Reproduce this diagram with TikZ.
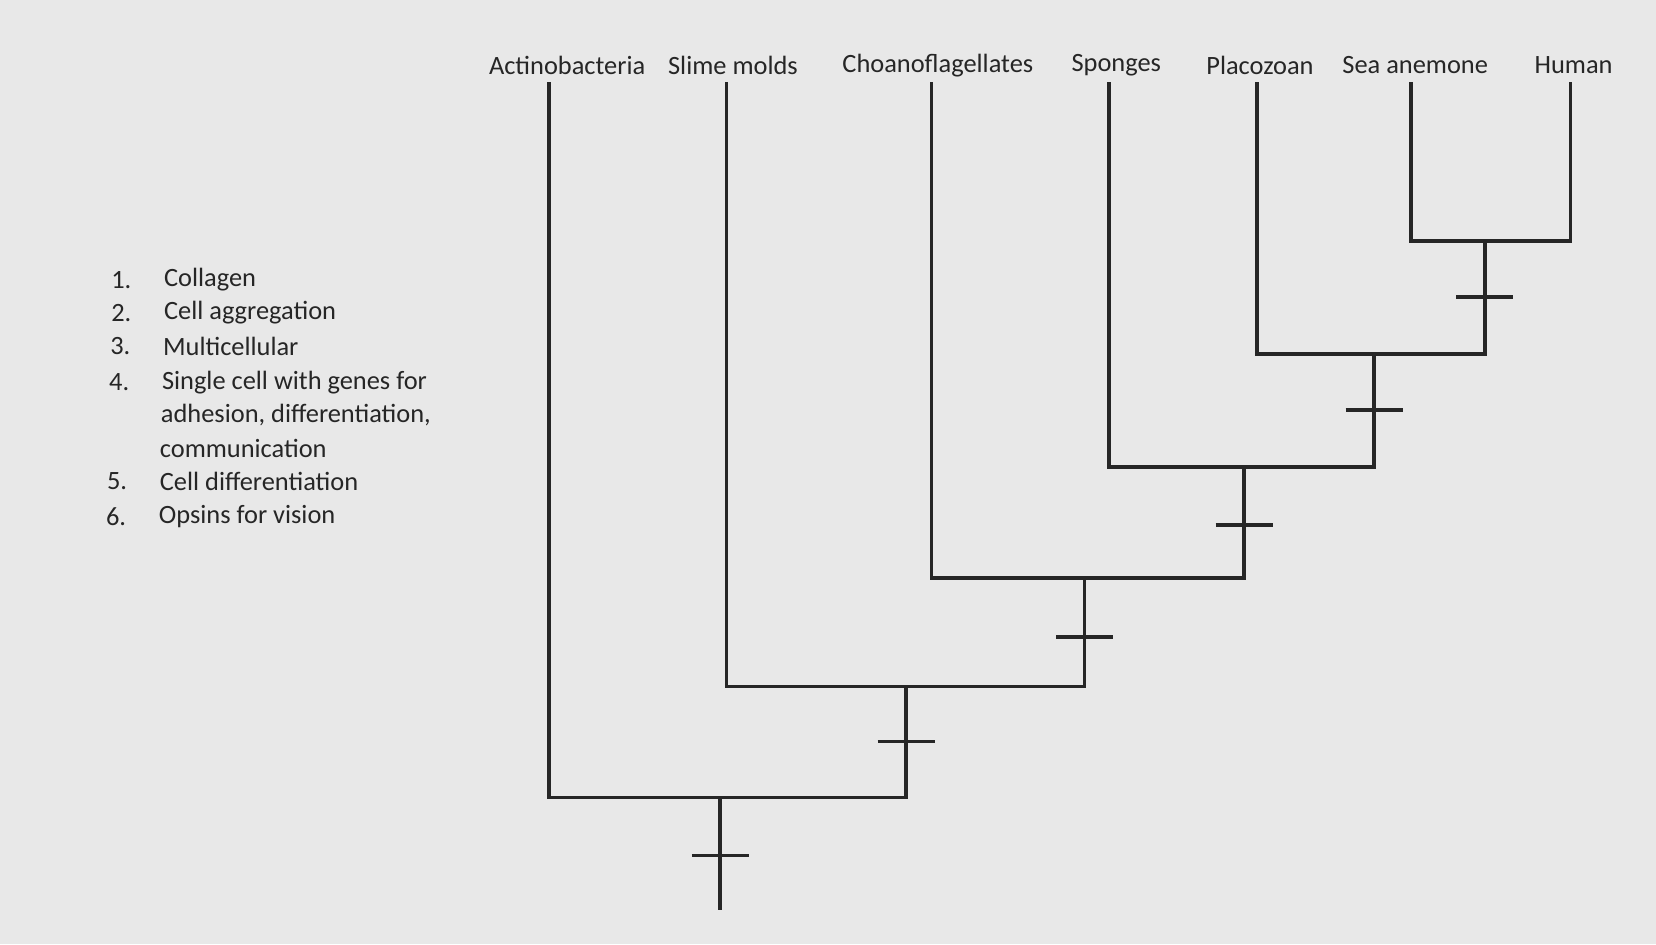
\documentclass[tikz,border=0pt]{standalone}
\usepackage{fontspec}
\setmainfont{Carlito}
\begin{document}
\begin{tikzpicture}[x=0.5pt,y=-0.5pt,
  br/.style={line width=1.7pt,draw=black!85},
  lab/.style={font=\fontsize{12.5}{14}\selectfont,text=black!85,inner sep=0pt},
  leg/.style={font=\fontsize{12.5}{14}\selectfont,text=black!85,inner sep=0pt,anchor=west}]
\fill[black!9] (0,0) rectangle (1568,894);
\useasboundingbox (0,0) rectangle (1568,894);
% labels
\node[lab] (a) at (537,62) {Actinobacteria};
\node[lab] (s) at (694,62) {Slime molds};
\node[lab] (c) at (888,62) {Choanoflagellates};
\node[lab] (p) at (1057,62) {Sponges};
\node[lab] (z) at (1193,62) {Placozoan};
\node[lab] (e) at (1340,62) {Sea anemone};
\node[lab] (h) at (1490,62) {Human};
% internal nodes
\coordinate (n1) at (682,755);
\coordinate (n2) at (858,650);
\coordinate (n3) at (1027,547);
\coordinate (n4) at (1178,442);
\coordinate (n5) at (1301,335);
\coordinate (n6) at (1406,228);
\coordinate (root) at (682,862);
\draw[br] (520,78) |- (n1) -| (n2);
\draw[br] (688,78) |- (n2) -| (n3);
\draw[br] (882,78) |- (n3) -| (n4);
\draw[br] (1050,78) |- (n4) -| (n5);
\draw[br] (1190,78) |- (n5) -| (n6);
\draw[br] (1336,78) |- (n6) -| (1487,78);
\draw[br] (n1) -- (root);
% ticks
\foreach \x/\y in {682/810,858/702,1027/603,1178/497,1301/388,1406/281}
  \draw[br] (\x-27,\y) -- (\x+27,\y);
% legend
\node[leg] (l1n) at (105,265) {1.};
\node[leg] (l1) at (155,265) {Collagen};
\node[leg] (l2n) at (105,296) {2.};
\node[leg] (l2) at (155,296) {Cell aggregation};
\node[leg] (l3n) at (104,328) {3.};
\node[leg] (l3) at (154,328) {Multicellular};
\node[leg] (l4n) at (103,362) {4.};
\node[leg] (l4) at (153,362) {Single cell with genes for};
\node[leg] (l4b) at (152,393) {adhesion, differentiation,};
\node[leg] (l4c) at (151,425) {communication};
\node[leg] (l5n) at (101,456) {5.};
\node[leg] (l5) at (151,456) {Cell differentiation};
\node[leg] (l6n) at (100,489) {6.};
\node[leg] (l6) at (150,489) {Opsins for vision};
\end{tikzpicture}
\end{document}
